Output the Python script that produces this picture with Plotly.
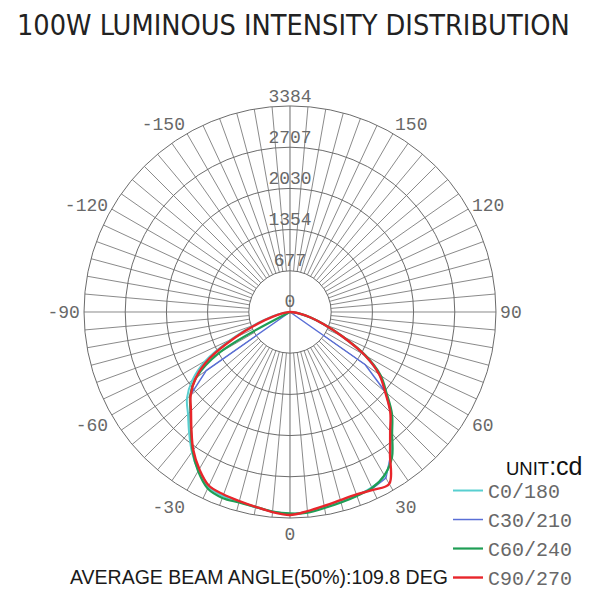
import plotly.graph_objects as go

# gamma angles (deg), 0 = straight down, negative = left half
gamma = list(range(-90, 95, 5))

# luminous intensity in cd
c0_180 = [0, 40, 140, 320, 620, 1070, 1600, 1960, 2210, 2370, 2580, 2810, 3010,
          3170, 3220, 3230, 3260, 3290, 3320, 3300, 3260, 3230, 3210, 3180, 3110,
          2900, 2590, 2350, 2060, 1790, 1400, 930, 570, 330, 150, 40, 0]
c30_210 = [0, 0, 0, 0, 0, 0, 0, 1680, 2150, 2320, 2540, 2790, 3000,
           3160, 3200, 3220, 3255, 3300, 3330, 3290, 3245, 3210, 3200, 3200, 3150,
           2880, 2575, 2340, 2050, 1510, 0, 0, 0, 0, 0, 0, 0]
c60_240 = [0, 0, 0, 0, 0, 0, 1350, 1880, 2140, 2310, 2530, 2790, 3020,
           3200, 3250, 3240, 3250, 3290, 3310, 3310, 3270, 3240, 3215, 3190, 3100,
           2920, 2610, 2370, 2070, 1820, 1440, 960, 600, 350, 160, 50, 0]
c90_270 = [0, 30, 115, 280, 560, 1000, 1530, 1890, 2130, 2300, 2520, 2770, 2980,
           3150, 3190, 3215, 3250, 3300, 3335, 3285, 3235, 3200, 3190, 3225, 3260,
           2865, 2560, 2330, 2040, 1790, 1420, 950, 590, 350, 160, 50, 0]

series_names = ["C0/180", "C30/210", "C60/240", "C90/270"]
series_vals = [c0_180, c30_210, c60_240, c90_270]
series_colors = ["#58cfd0", "#5a6fd6", "#1f9e55", "#e8262b"]
series_widths = [2, 1.5, 2.2, 2.4]
series_shapes = ["spline", "linear", "spline", "spline"]

ring_vals = [677, 1354, 2030, 2707]
ring_labels = ["0", "677", "1354", "2030", "2707", "3384"]
r_max = 3384

ang_tickvals = [0, 30, 60, 90, 120, 150, 210, 240, 270, 300, 330]
ang_ticktext = ["0", "30", "60", "90", "120", "150", "-150", "-120", "-90", "-60", "-30"]

GRID = "#6c6c6c"
TXT = "#686868"
MONO = "Liberation Mono, DejaVu Sans Mono, monospace"
SANS = "Liberation Sans, Arial, sans-serif"

fig = go.Figure()

# spokes every 5 deg, starting at the first ring
sr, st = [], []
for a in range(5, 360, 5):
    if a == 180:
        continue
    sr += [ring_vals[0], r_max, None]
    st += [a, a, None]
fig.add_trace(go.Scatterpolar(r=sr, theta=st, mode="lines",
                              line=dict(color=GRID, width=0.8),
                              showlegend=False, hoverinfo="skip"))
# full vertical axis line
fig.add_trace(go.Scatterpolar(r=[r_max, 0, r_max], theta=[180, 0, 0], mode="lines",
                              line=dict(color=GRID, width=1),
                              showlegend=False, hoverinfo="skip"))

# draw order: blue underneath, red on top
for i in [1, 0, 2, 3]:
    fig.add_trace(go.Scatterpolar(
        r=series_vals[i], theta=gamma, mode="lines", name=series_names[i],
        legendrank=i,
        line=dict(color=series_colors[i], width=series_widths[i],
                  shape=series_shapes[i], smoothing=1.0),
    ))

# radial value labels up the vertical axis
fig.add_trace(go.Scatterpolar(
    r=[0] + ring_vals + [r_max], theta=[180] * 6, mode="text",
    text=ring_labels, textposition="top center",
    textfont=dict(family=MONO, size=18, color=TXT),
    cliponaxis=False, showlegend=False, hoverinfo="skip"))

fig.update_layout(
    width=600, height=600,
    margin=dict(l=0, r=0, t=0, b=0, autoexpand=False),
    paper_bgcolor="white",
    polar=dict(
        domain=dict(x=[0.1267, 0.8133], y=[0.15, 0.8367]),
        bgcolor="white",
        radialaxis=dict(range=[0, r_max], tickvals=ring_vals, showticklabels=False,
                        ticks="", showline=False, gridcolor=GRID, gridwidth=1),
        angularaxis=dict(rotation=270, direction="counterclockwise",
                         tickvals=ang_tickvals, ticktext=ang_ticktext,
                         showgrid=False, showline=True, linecolor=GRID, linewidth=1,
                         ticks="",
                         tickfont=dict(family=MONO, size=18, color=TXT)),
    ),
    showlegend=True,
    legend=dict(x=0.7333, y=0.2283, xanchor="left", yanchor="top",
                font=dict(family=MONO, size=20, color=TXT),
                traceorder="normal",
                bgcolor="rgba(0,0,0,0)"),
    annotations=[
        dict(text="100W LUMINOUS INTENSITY DISTRIBUTION", x=0.475, y=0.9717,
             xref="paper", yref="paper", xanchor="center", yanchor="middle",
             showarrow=False,
             font=dict(family="DejaVu Sans Condensed, sans-serif",
                       size=28.6, color="#222222")),
        dict(text="UNIT<span style='font-size:25px'>:cd</span>", x=0.9617, y=0.237,
             xref="paper", yref="paper", xanchor="right", yanchor="middle",
             showarrow=False,
             font=dict(family=SANS, size=18.5, color="#111111")),
        dict(text="AVERAGE BEAM ANGLE(50%):109.8 DEG", x=0.1, y=0.0517,
             xref="paper", yref="paper", xanchor="left", yanchor="middle",
             showarrow=False,
             font=dict(family=SANS, size=19.5, color="#1a1a1a")),
    ],
)

fig.write_html("out.html")
